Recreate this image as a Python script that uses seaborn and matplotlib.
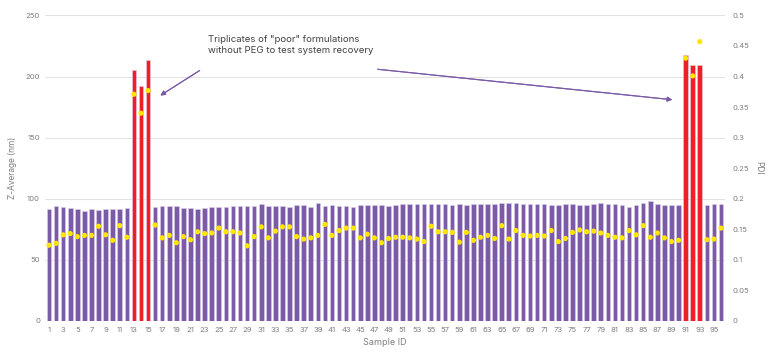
import numpy as np
import pandas as pd
import matplotlib.pyplot as plt
import seaborn as sns

# Datos
sample_ids = list(range(1, 97))
z_avg = [91.3, 94.0, 93.2, 92.4, 91.9, 89.7, 91.3, 90.5, 91.3, 91.9, 91.6, 92.1,
         205.3, 192.5, 213.5,
         93.2, 93.7, 94.3, 93.7, 92.6, 92.6, 91.8, 92.1, 93.4, 93.4, 93.2, 93.7,
         94.3, 93.7, 94.0, 95.9, 94.3, 94.3, 93.7,
         92.9, 94.5, 95.1, 93.2, 96.4, 93.7, 94.8, 93.7, 94.3, 93.2, 94.5, 94.8,
         94.5, 94.5, 94.3, 95.1, 95.6, 95.6, 95.6, 95.9, 95.9, 95.9, 95.4, 94.5,
         95.4, 94.5, 95.6, 95.6, 95.9, 95.4, 96.4, 96.4, 96.4, 95.4, 95.6, 95.6,
         95.4, 95.1, 95.1, 95.9, 95.6, 94.5, 95.1, 95.6, 96.2, 95.6, 95.6, 94.8,
         93.4, 95.1, 96.2, 98.1, 95.4, 95.1, 94.8, 94.5,
         217.5, 209.7, 209.7,
         95.1, 95.6, 95.6]
pdi = [0.124, 0.127, 0.141, 0.143, 0.138, 0.140, 0.140, 0.155, 0.141, 0.132, 0.156, 0.137,
       0.371, 0.340, 0.377,
       0.157, 0.136, 0.140, 0.128, 0.138, 0.133, 0.146, 0.143, 0.144, 0.152, 0.146, 0.146,
       0.144, 0.123, 0.138, 0.154, 0.136, 0.147, 0.154,
       0.154, 0.138, 0.134, 0.136, 0.140, 0.158, 0.140, 0.148, 0.152, 0.152, 0.136, 0.142,
       0.136, 0.128, 0.135, 0.137, 0.137, 0.136, 0.134, 0.130, 0.155, 0.146, 0.146, 0.145,
       0.129, 0.145, 0.132, 0.137, 0.140, 0.135, 0.156, 0.134, 0.148, 0.140, 0.139, 0.140,
       0.139, 0.148, 0.130, 0.135, 0.145, 0.149, 0.146, 0.147, 0.144, 0.140, 0.137, 0.136,
       0.148, 0.141, 0.156, 0.137, 0.144, 0.136, 0.130, 0.132,
       0.430, 0.401, 0.457,
       0.133, 0.134, 0.152]
poor_ids = [13, 14, 15, 91, 92, 93]

df = pd.DataFrame({'Sample': [str(s) for s in sample_ids], 'Z': z_avg, 'PDI': pdi})
df['Grupo'] = ['poor' if s in poor_ids else 'ok' for s in sample_ids]

sns.set_style('white')
plt.rcParams['font.family'] = ['Inter', 'DejaVu Sans']

fig = plt.figure(figsize=(7.68, 3.58), dpi=100)
ax = fig.add_axes([0.0592, 0.1034, 0.8842, 0.8536])

# Barras Z-Average
sns.barplot(data=df, x='Sample', y='Z', hue='Grupo', dodge=False, legend=False,
            palette={'ok': '#7B5BA7', 'poor': '#F01E26'}, saturation=1, width=0.65,
            edgecolor='#ddd3ea', linewidth=0.4, ax=ax, zorder=2)
ax.set_ylim(0, 250)
ax.set_yticks(range(0, 251, 50))
ax.set_xlim(-0.5, 95.5)
ax.set_xticks(range(0, 96, 2))
ax.set_xticklabels([str(s) for s in sample_ids[::2]])
ax.grid(axis='y', color='#e3e3e3', linewidth=0.8, zorder=0)
ax.set_axisbelow(True)
ax.tick_params(axis='both', length=0, labelsize=5.5, colors='#7f7f7f', pad=4)
ax.set_xlabel('Sample ID', fontsize=6.5, color='#7f7f7f', labelpad=4)
ax.set_ylabel('Z-Average (nm)', fontsize=6, color='#7f7f7f', labelpad=6)
sns.despine(ax=ax, left=True, bottom=True)

# PDI en eje secundario
ax2 = ax.twinx()
sns.scatterplot(x=np.arange(len(pdi)), y=df['PDI'], color='#FFE600', s=14,
                edgecolor='none', ax=ax2, zorder=3)
ax2.set_ylim(0, 0.5)
ax2.set_yticks(np.arange(0, 0.51, 0.05))
ax2.set_yticklabels(['0', '0.05', '0.1', '0.15', '0.2', '0.25', '0.3', '0.35',
                     '0.4', '0.45', '0.5'])
ax2.tick_params(axis='y', length=0, labelsize=5.5, colors='#7f7f7f', pad=6)
ax2.set_ylabel('PDI', fontsize=6, color='#7f7f7f', rotation=270, labelpad=10)
ax2.grid(False)
sns.despine(ax=ax2, left=True, bottom=True, right=True)

# Anotacion
fig.text(0.271, 0.875, 'Triplicates of "poor" formulations\nwithout PEG to test system recovery',
         fontsize=6.9, color='#404040', va='center', ha='left', linespacing=1.3)
fig.add_artist(plt.annotate('', xy=(158 / 768, 1 - 97 / 358), xytext=(202 / 768, 1 - 69 / 358),
                            xycoords='figure fraction', textcoords='figure fraction',
                            arrowprops=dict(arrowstyle='-|>', color='#7B5BA7', lw=0.8,
                                            mutation_scale=7)))
fig.add_artist(plt.annotate('', xy=(675 / 768, 1 - 100 / 358), xytext=(375 / 768, 1 - 69 / 358),
                            xycoords='figure fraction', textcoords='figure fraction',
                            arrowprops=dict(arrowstyle='-|>', color='#7B5BA7', lw=0.8,
                                            mutation_scale=7)))

plt.savefig('out.png', dpi=100)
